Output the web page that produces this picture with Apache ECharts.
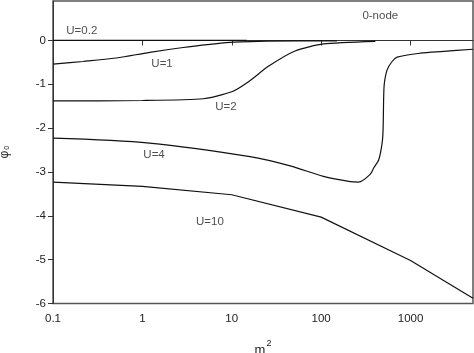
<!DOCTYPE html>
<html>
<head>
<meta charset="utf-8">
<script src="https://cdn.jsdelivr.net/npm/echarts@6/dist/echarts.min.js"></script>
<style>html,body{margin:0;padding:0;background:#fff}#c{width:474px;height:353px}</style>
</head>
<body>
<div id="c"></div>
<script>
// tick labels
const xTicks = [0.1, 1, 10, 100, 1000];
const yTicks = [-6, -5, -4, -3, -2, -1, 0];

// series values (x = m^2, y = phi_0)
const u02X = [0.1, 14.7];
const u02Y = [0, 0];

const u1X = [0.1, 0.217, 0.51, 1.21, 2.86, 5.7, 10.4, 58, 150];
const u1Y = [-0.54, -0.48, -0.40, -0.27, -0.16, -0.09, -0.04, -0.01, -0.01];

const u2X = [0.1, 1, 4.8, 10, 15.4, 25.7, 51, 106, 404];
const u2Y = [-1.38, -1.37, -1.33, -1.17, -0.94, -0.59, -0.24, -0.08, -0.02];

const u4X = [0.1, 1.2, 16, 45, 106, 212, 262, 355, 387, 441, 481, 493, 501, 510, 547, 622, 708, 1290, 2355, 5000];
const u4Y = [-2.23, -2.34, -2.65, -2.86, -3.10, -3.22, -3.23, -3.05, -2.91, -2.72, -2.34, -2.04, -1.28, -0.97, -0.67, -0.48, -0.38, -0.29, -0.25, -0.20];

const u10X = [0.1, 1, 10, 100, 1000, 5000];
const u10Y = [-3.23, -3.33, -3.52, -4.03, -5.02, -5.88];

// curve annotations
const labelText = ['U=0.2', 'U=1', 'U=2', 'U=4', 'U=10', '0-node'];
const labelX = [0.21, 1.66, 8.6, 1.35, 5.7, 459];
const labelY = [0.22, -0.53, -1.51, -2.61, -4.14, 0.56];

const zip = (xs, ys) => xs.map((x, i) => [x, ys[i]]);
const FONT = 'Liberation Sans, Arial, sans-serif';
const lineStyle = { color: '#111', width: 1.2 };

const chart = echarts.init(document.getElementById('c'), null, { renderer: 'canvas' });
chart.setOption({
  animation: false,
  backgroundColor: '#fff',
  grid: { left: 53, right: 1, top: 1, bottom: 49.5, containLabel: false, outerBoundsMode: 'none',
    show: true, borderColor: '#555', borderWidth: 1.5, backgroundColor: 'transparent' },
  xAxis: {
    type: 'log', logBase: 10, min: 0.1, max: 5000,
    name: '{a|m}{s|2}', nameLocation: 'middle', nameGap: 36,
    nameTextStyle: { rich: { a: { fontFamily: FONT, fontSize: 13, color: '#222', verticalAlign: 'bottom' }, s: { fontFamily: FONT, fontSize: 9, color: '#222', verticalAlign: 'top', padding: [0, 0, 8, 1] } } },
    axisLine: { show: true, lineStyle: { color: '#333', width: 1 } },
    axisTick: { show: true, inside: false, length: 5, lineStyle: { color: '#333' } },
    minorTick: { show: false },
    splitLine: { show: false },
    axisLabel: { fontFamily: FONT, fontSize: 11.5, color: '#222', margin: 9, showMaxLabel: false,
      formatter: v => { const t = xTicks.find(k => Math.abs(k - v) / k < 1e-6); return t === undefined ? '' : String(t); } }
  },
  yAxis: {
    type: 'value', min: -6, max: 0.9, interval: 1,
    name: '{a|φ}{s|0}', nameLocation: 'middle', nameGap: 42, nameRotate: 90,
    nameTextStyle: { rich: { a: { fontFamily: FONT, fontSize: 12, color: '#222' }, s: { fontFamily: FONT, fontSize: 7, color: '#222', padding: [6, 0, 0, 1] } } },
    axisLine: { show: true, lineStyle: { color: '#333', width: 1 } },
    axisTick: { show: true, inside: false, length: 5, lineStyle: { color: '#333' } },
    splitLine: { show: false },
    axisLabel: { fontFamily: FONT, fontSize: 11.5, color: '#222', margin: 7, showMaxLabel: false,
      formatter: v => (yTicks.indexOf(v) >= 0 ? String(v) : '') }
  },
  series: [
    { type: 'line', name: 'U=0.2', data: zip(u02X, u02Y), showSymbol: false, lineStyle },
    { type: 'line', name: 'U=1', data: zip(u1X, u1Y), showSymbol: false, smooth: 0.3, lineStyle },
    { type: 'line', name: 'U=2', data: zip(u2X, u2Y), showSymbol: false, smooth: 0.2, lineStyle },
    { type: 'line', name: 'U=4', data: zip(u4X, u4Y), showSymbol: false, smooth: 0.3, lineStyle },
    { type: 'line', name: 'U=10', data: zip(u10X, u10Y), showSymbol: false, lineStyle },
    { type: 'scatter', name: 'labels', symbolSize: 0, silent: true,
      data: labelText.map((t, i) => ({ name: t, value: [labelX[i], labelY[i]] })),
      label: { show: true, position: 'inside', formatter: p => p.name, fontFamily: FONT, fontSize: 11.5, color: '#222' } }
  ]
});
</script>
</body>
</html>
